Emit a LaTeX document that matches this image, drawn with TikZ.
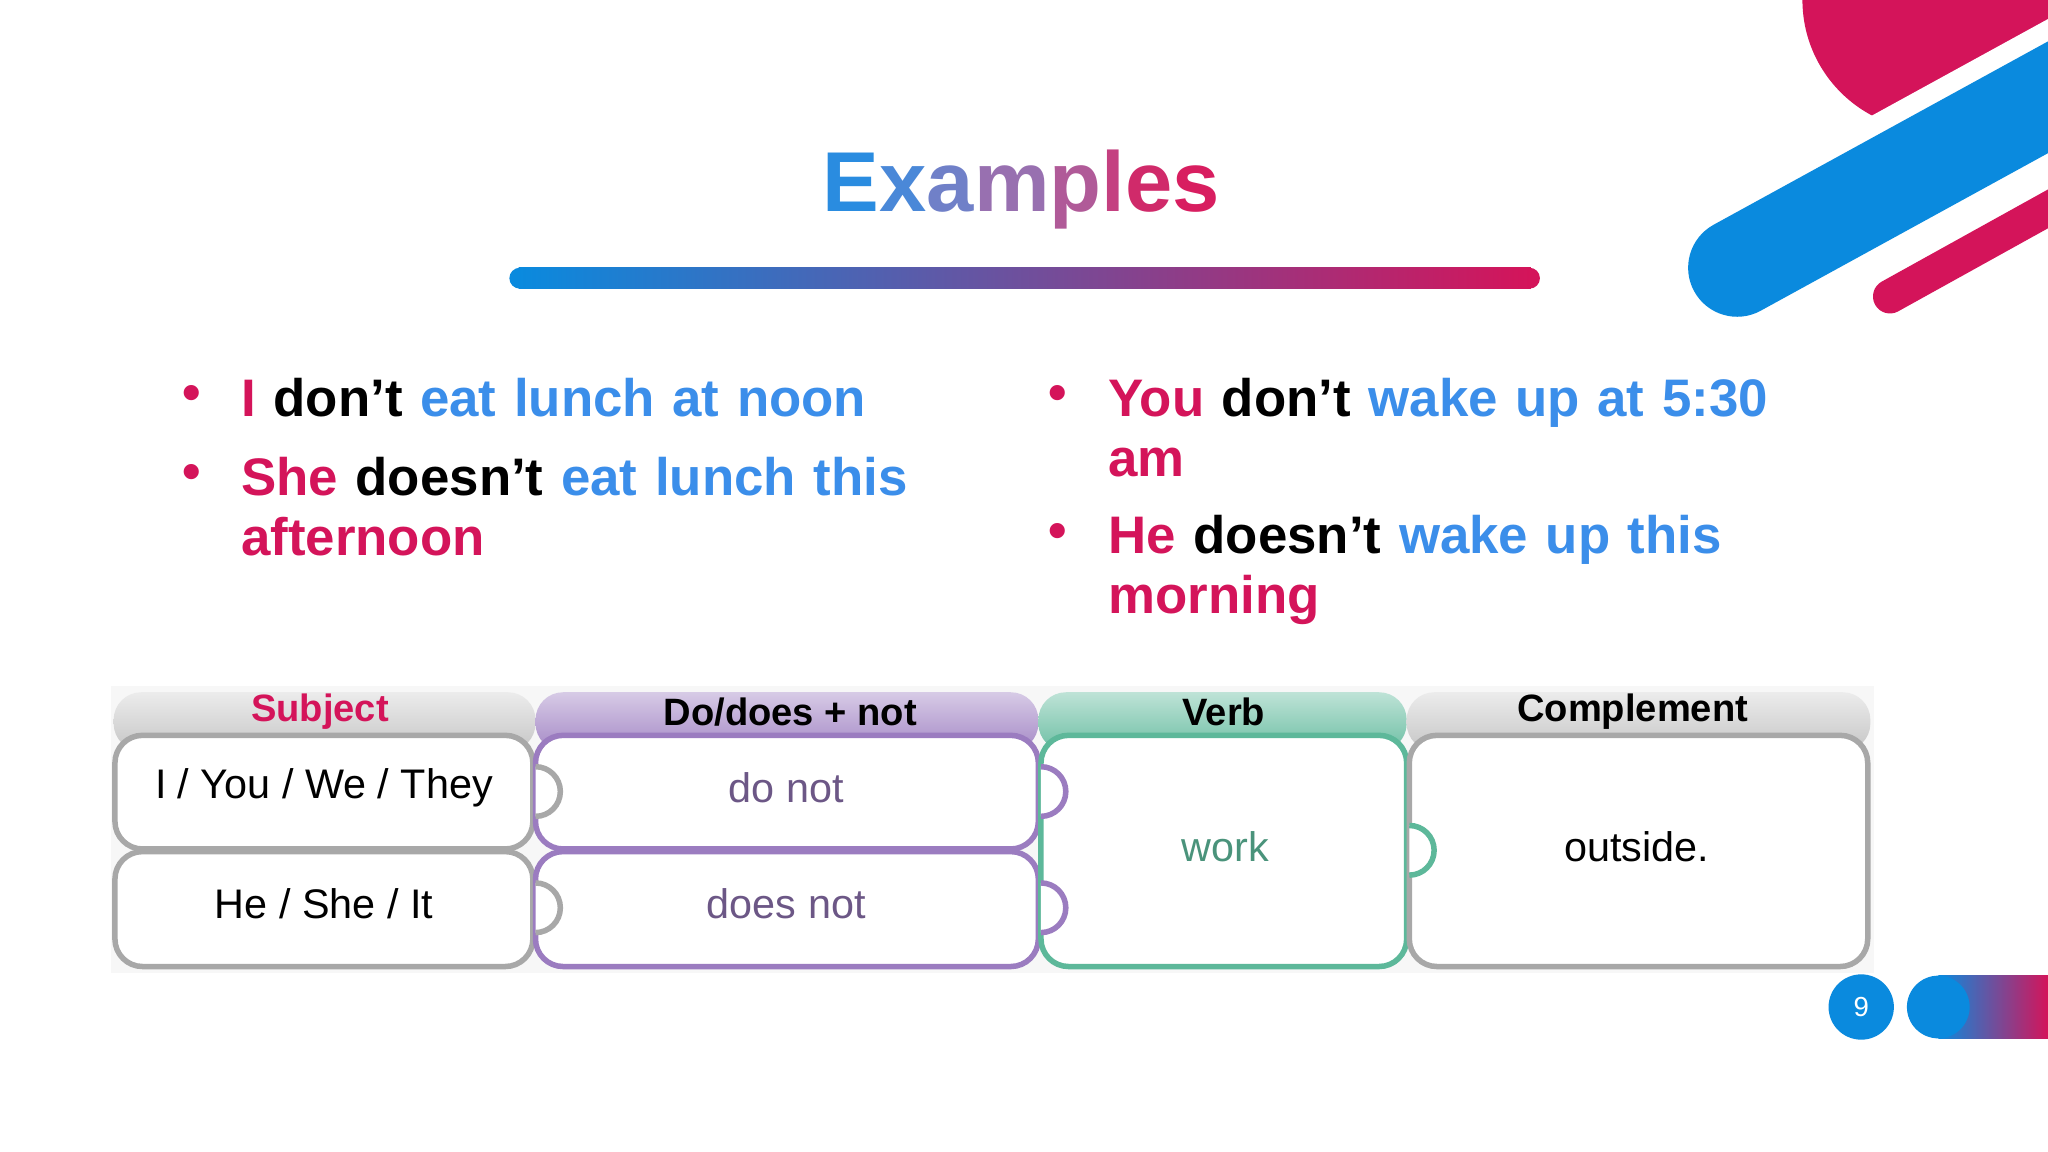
\documentclass[tikz,border=0pt]{standalone}
\usepackage{fontspec}
\setmainfont{Liberation Sans}
\usetikzlibrary{calc}
\definecolor{pk}{HTML}{D4145A}
\definecolor{bl}{HTML}{0A8ADE}
\definecolor{tb}{HTML}{3B8EEA}
\definecolor{pu}{HTML}{9B7CC0}
\definecolor{gr}{HTML}{5DB89A}
\definecolor{gy}{HTML}{A8A8A8}
\tikzset{
 bul/.style={anchor=north west,font=\bfseries\fontsize{11.5}{13.1}\selectfont,text width=6.3cm,align=left,inner sep=0},
 dot/.style={font=\bfseries\fontsize{11.5}{13}\selectfont,pk,inner sep=0},
 hdr/.style={font=\bfseries\fontsize{8.3}{10}\selectfont},
 cell/.style={font=\fontsize{9}{11}\selectfont},
}
\begin{document}
\begin{tikzpicture}[x=0.01cm,y=-0.01cm]
\useasboundingbox (0,0) rectangle (1568,882);
\fill[white] (0,0) rectangle (1568,882);
\begin{scope}
\clip (0,0) rectangle (1568,882);
\fill[pk] (1480,0) circle (100);
\draw[white,line width=1.05cm,line cap=round] (1330,205) -- (1640,35);
\draw[bl,line width=0.75cm,line cap=round] (1330,205) -- (1640,35);
\draw[pk,line width=0.26cm,line cap=round] (1447,227) -- (1640,120);
\shade[left color=bl,right color=pk] (1484,747) rectangle (1568,795);
\fill[bl] (1484,771) circle (0.24cm);
\end{scope}
\node[circle,fill=bl,minimum size=0.5cm,inner sep=0,text=white,font=\fontsize{6}{7}\selectfont] (pg) at (1425,771) {9};
\node[font=\bfseries\fontsize{18.5}{22}\selectfont,inner sep=0] (title) at (782,145)
 {\textcolor[HTML]{2A8CE0}{E}\textcolor[HTML]{4A88D8}{x}\textcolor[HTML]{7080C8}{a}\textcolor[HTML]{9870B0}{m}\textcolor[HTML]{B05A98}{p}\textcolor[HTML]{C44080}{l}\textcolor[HTML]{D02A6A}{e}\textcolor[HTML]{D81E60}{s}};
\fill[bl] (398,213) circle (0.08cm);
\fill[pk] (1171,213) circle (0.08cm);
\shade[left color=bl,right color=pk] (397,205) rectangle (1172,221);
% bullets
\node[dot] (d1) at (147,305) {•};
\node[bul] (b1) at (184,289) {\textcolor{pk}{I} don’t \textcolor{tb}{eat lunch at noon}};
\node[dot] (d2) at (147,365) {•};
\node[bul] (b2) at (184,349) {\textcolor{pk}{She} doesn’t \textcolor{tb}{eat lunch this}\\ \textcolor{pk}{afternoon}};
\node[dot] (d3) at (810,305) {•};
\node[bul] (b3) at (848,289) {\textcolor{pk}{You} don’t \textcolor{tb}{wake up at 5:30}\\ \textcolor{pk}{am}};
\node[dot] (d4) at (810,410) {•};
\node[bul] (b4) at (848,394) {\textcolor{pk}{He} doesn’t \textcolor{tb}{wake up this}\\ \textcolor{pk}{morning}};
% table
\fill[black!3] (85,525) rectangle (1435,745);
\shade[top color=gray!15,bottom color=gray!45,rounded corners=6pt] (87,530) rectangle (410,575);
\shade[top color=pu!40,bottom color=pu!90,rounded corners=6pt] (410,530) rectangle (795,575);
\shade[top color=gr!40,bottom color=gr!90,rounded corners=6pt] (795,530) rectangle (1077,575);
\shade[top color=gray!15,bottom color=gray!45,rounded corners=6pt] (1077,530) rectangle (1432,575);
\node[hdr,text=pk] (h1) at (245,545) {Subject};
\node[hdr] (h2) at (605,545) {Do/does + not};
\node[hdr] (h3) at (937,545) {Verb};
\node[hdr] (h4) at (1250,545) {Complement};
\tikzset{cb/.style={fill=white,rounded corners=6pt,line width=1.2pt}}
\draw[cb,draw=gy] (88,563) rectangle (408,650);
\draw[cb,draw=gy] (88,652) rectangle (408,740);
\draw[cb,draw=pu] (410,563) rectangle (795,650);
\draw[cb,draw=pu] (410,652) rectangle (795,740);
\draw[cb,draw=gr] (797,563) rectangle (1077,740);
\draw[cb,draw=gy] (1079,563) rectangle (1430,740);
\tikzset{kn/.style={fill=white,line width=1.2pt}}
\draw[kn,draw=gy] (410,587) arc[start angle=90,end angle=-90,radius=0.19cm];
\draw[kn,draw=gy] (410,676) arc[start angle=90,end angle=-90,radius=0.19cm];
\draw[kn,draw=pu] (797,587) arc[start angle=90,end angle=-90,radius=0.19cm];
\draw[kn,draw=pu] (797,676) arc[start angle=90,end angle=-90,radius=0.19cm];
\draw[kn,draw=gr] (1079,632) arc[start angle=90,end angle=-90,radius=0.19cm];
\node[cell] (c1) at (248,603) {I / You / We / They};
\node[cell] (c2) at (248,692) {He / She / It};
\node[cell,text=pu!70!black] (c3) at (602,603) {do not};
\node[cell,text=pu!70!black] (c4) at (602,692) {does not};
\node[cell,text=gr!80!black] (c5) at (938,648) {work};
\node[cell] (c6) at (1253,648) {outside.};
\end{tikzpicture}
\end{document}
